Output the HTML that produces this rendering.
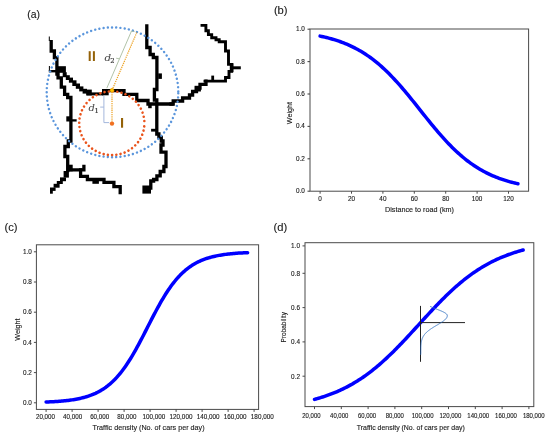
<!DOCTYPE html>
<html><head><meta charset="utf-8"><title>Figure</title>
<style>
html,body{margin:0;padding:0;background:#fff;}
body{width:550px;height:437px;overflow:hidden;}
svg{display:block;}
</style></head>
<body>
<svg width="550" height="437" viewBox="0 0 550 437">
<rect width="550" height="437" fill="#fff"/>
<rect x="310.0" y="29.0" width="218.60000000000002" height="162.2" fill="none" stroke="#4a4a4a" stroke-width="1"/>
<line x1="307.5" y1="191.20" x2="310.0" y2="191.20" stroke="#4a4a4a" stroke-width="1.1"/>
<text x="304.80" y="193.10" font-size="6.4" text-anchor="end" fill="#1a1a1a" stroke="#1a1a1a" stroke-width="0.12" font-family='"Liberation Sans", "DejaVu Sans", sans-serif' >0.0</text>
<line x1="307.5" y1="158.80" x2="310.0" y2="158.80" stroke="#4a4a4a" stroke-width="1.1"/>
<text x="304.80" y="160.70" font-size="6.4" text-anchor="end" fill="#1a1a1a" stroke="#1a1a1a" stroke-width="0.12" font-family='"Liberation Sans", "DejaVu Sans", sans-serif' >0.2</text>
<line x1="307.5" y1="126.40" x2="310.0" y2="126.40" stroke="#4a4a4a" stroke-width="1.1"/>
<text x="304.80" y="128.30" font-size="6.4" text-anchor="end" fill="#1a1a1a" stroke="#1a1a1a" stroke-width="0.12" font-family='"Liberation Sans", "DejaVu Sans", sans-serif' >0.4</text>
<line x1="307.5" y1="94.00" x2="310.0" y2="94.00" stroke="#4a4a4a" stroke-width="1.1"/>
<text x="304.80" y="95.90" font-size="6.4" text-anchor="end" fill="#1a1a1a" stroke="#1a1a1a" stroke-width="0.12" font-family='"Liberation Sans", "DejaVu Sans", sans-serif' >0.6</text>
<line x1="307.5" y1="61.60" x2="310.0" y2="61.60" stroke="#4a4a4a" stroke-width="1.1"/>
<text x="304.80" y="63.50" font-size="6.4" text-anchor="end" fill="#1a1a1a" stroke="#1a1a1a" stroke-width="0.12" font-family='"Liberation Sans", "DejaVu Sans", sans-serif' >0.8</text>
<line x1="307.5" y1="29.20" x2="310.0" y2="29.20" stroke="#4a4a4a" stroke-width="1.1"/>
<text x="304.80" y="31.10" font-size="6.4" text-anchor="end" fill="#1a1a1a" stroke="#1a1a1a" stroke-width="0.12" font-family='"Liberation Sans", "DejaVu Sans", sans-serif' >1.0</text>
<line x1="320.10" y1="191.2" x2="320.10" y2="193.7" stroke="#4a4a4a" stroke-width="1"/>
<text x="320.10" y="200.70" font-size="6.4" text-anchor="middle" fill="#1a1a1a" stroke="#1a1a1a" stroke-width="0.12" font-family='"Liberation Sans", "DejaVu Sans", sans-serif' >0</text>
<line x1="351.50" y1="191.2" x2="351.50" y2="193.7" stroke="#4a4a4a" stroke-width="1"/>
<text x="351.50" y="200.70" font-size="6.4" text-anchor="middle" fill="#1a1a1a" stroke="#1a1a1a" stroke-width="0.12" font-family='"Liberation Sans", "DejaVu Sans", sans-serif' >20</text>
<line x1="382.90" y1="191.2" x2="382.90" y2="193.7" stroke="#4a4a4a" stroke-width="1"/>
<text x="382.90" y="200.70" font-size="6.4" text-anchor="middle" fill="#1a1a1a" stroke="#1a1a1a" stroke-width="0.12" font-family='"Liberation Sans", "DejaVu Sans", sans-serif' >40</text>
<line x1="414.30" y1="191.2" x2="414.30" y2="193.7" stroke="#4a4a4a" stroke-width="1"/>
<text x="414.30" y="200.70" font-size="6.4" text-anchor="middle" fill="#1a1a1a" stroke="#1a1a1a" stroke-width="0.12" font-family='"Liberation Sans", "DejaVu Sans", sans-serif' >60</text>
<line x1="445.70" y1="191.2" x2="445.70" y2="193.7" stroke="#4a4a4a" stroke-width="1"/>
<text x="445.70" y="200.70" font-size="6.4" text-anchor="middle" fill="#1a1a1a" stroke="#1a1a1a" stroke-width="0.12" font-family='"Liberation Sans", "DejaVu Sans", sans-serif' >80</text>
<line x1="477.10" y1="191.2" x2="477.10" y2="193.7" stroke="#4a4a4a" stroke-width="1"/>
<text x="477.10" y="200.70" font-size="6.4" text-anchor="middle" fill="#1a1a1a" stroke="#1a1a1a" stroke-width="0.12" font-family='"Liberation Sans", "DejaVu Sans", sans-serif' >100</text>
<line x1="508.50" y1="191.2" x2="508.50" y2="193.7" stroke="#4a4a4a" stroke-width="1"/>
<text x="508.50" y="200.70" font-size="6.4" text-anchor="middle" fill="#1a1a1a" stroke="#1a1a1a" stroke-width="0.12" font-family='"Liberation Sans", "DejaVu Sans", sans-serif' >120</text>
<text x="419.50" y="212.00" font-size="7.3" text-anchor="middle" fill="#1a1a1a" stroke="#1a1a1a" stroke-width="0.12" font-family='"Liberation Sans", "DejaVu Sans", sans-serif' textLength="69" lengthAdjust="spacingAndGlyphs" >Distance to road (km)</text>
<text x="0" y="0" font-size="7.2" text-anchor="middle" fill="#1a1a1a" stroke="#1a1a1a" stroke-width="0.12" font-family='"Liberation Sans", "DejaVu Sans", sans-serif' transform="translate(292.2,113) rotate(-90)">Weight</text>
<path d="M320.10,36.10 L321.67,36.43 L323.24,36.78 L324.81,37.14 L326.38,37.51 L327.95,37.91 L329.52,38.32 L331.09,38.75 L332.66,39.19 L334.23,39.66 L335.80,40.15 L337.37,40.66 L338.94,41.19 L340.51,41.74 L342.08,42.32 L343.65,42.92 L345.22,43.54 L346.79,44.19 L348.36,44.87 L349.93,45.57 L351.50,46.31 L353.07,47.07 L354.64,47.86 L356.21,48.68 L357.78,49.53 L359.35,50.41 L360.92,51.33 L362.49,52.28 L364.06,53.26 L365.63,54.28 L367.20,55.33 L368.77,56.41 L370.34,57.54 L371.91,58.69 L373.48,59.89 L375.05,61.12 L376.62,62.39 L378.19,63.70 L379.76,65.04 L381.33,66.42 L382.90,67.84 L384.47,69.29 L386.04,70.78 L387.61,72.30 L389.18,73.86 L390.75,75.46 L392.32,77.09 L393.89,78.75 L395.46,80.44 L397.03,82.17 L398.60,83.92 L400.17,85.70 L401.74,87.51 L403.31,89.34 L404.88,91.20 L406.45,93.08 L408.02,94.97 L409.59,96.89 L411.16,98.82 L412.73,100.76 L414.30,102.71 L415.87,104.68 L417.44,106.65 L419.01,108.62 L420.58,110.60 L422.15,112.57 L423.72,114.54 L425.29,116.51 L426.86,118.47 L428.43,120.42 L430.00,122.36 L431.57,124.28 L433.14,126.19 L434.71,128.08 L436.28,129.95 L437.85,131.79 L439.42,133.62 L440.99,135.41 L442.56,137.18 L444.13,138.93 L445.70,140.64 L447.27,142.32 L448.84,143.97 L450.41,145.58 L451.98,147.16 L453.55,148.71 L455.12,150.22 L456.69,151.70 L458.26,153.14 L459.83,154.54 L461.40,155.90 L462.97,157.23 L464.54,158.52 L466.11,159.78 L467.68,160.99 L469.25,162.17 L470.82,163.32 L472.39,164.43 L473.96,165.50 L475.53,166.54 L477.10,167.54 L478.67,168.51 L480.24,169.44 L481.81,170.35 L483.38,171.22 L484.95,172.05 L486.52,172.86 L488.09,173.64 L489.66,174.39 L491.23,175.11 L492.80,175.80 L494.37,176.47 L495.94,177.11 L497.51,177.73 L499.08,178.32 L500.65,178.88 L502.22,179.43 L503.79,179.95 L505.36,180.45 L506.93,180.93 L508.50,181.39 L510.07,181.83 L511.64,182.25 L513.21,182.65 L514.78,183.04 L516.35,183.41 L517.92,183.76" fill="none" stroke="#0000ff" stroke-width="3.5" stroke-linecap="round" stroke-linejoin="round" />
<rect x="36.4" y="244.8" width="222.20000000000002" height="164.59999999999997" fill="none" stroke="#4a4a4a" stroke-width="1"/>
<line x1="33.9" y1="402.80" x2="36.4" y2="402.80" stroke="#4a4a4a" stroke-width="1"/>
<text x="31.80" y="404.90" font-size="6.4" text-anchor="end" fill="#1a1a1a" stroke="#1a1a1a" stroke-width="0.12" font-family='"Liberation Sans", "DejaVu Sans", sans-serif' >0.0</text>
<line x1="33.9" y1="372.60" x2="36.4" y2="372.60" stroke="#4a4a4a" stroke-width="1"/>
<text x="31.80" y="374.70" font-size="6.4" text-anchor="end" fill="#1a1a1a" stroke="#1a1a1a" stroke-width="0.12" font-family='"Liberation Sans", "DejaVu Sans", sans-serif' >0.2</text>
<line x1="33.9" y1="342.40" x2="36.4" y2="342.40" stroke="#4a4a4a" stroke-width="1"/>
<text x="31.80" y="344.50" font-size="6.4" text-anchor="end" fill="#1a1a1a" stroke="#1a1a1a" stroke-width="0.12" font-family='"Liberation Sans", "DejaVu Sans", sans-serif' >0.4</text>
<line x1="33.9" y1="312.20" x2="36.4" y2="312.20" stroke="#4a4a4a" stroke-width="1"/>
<text x="31.80" y="314.30" font-size="6.4" text-anchor="end" fill="#1a1a1a" stroke="#1a1a1a" stroke-width="0.12" font-family='"Liberation Sans", "DejaVu Sans", sans-serif' >0.6</text>
<line x1="33.9" y1="282.00" x2="36.4" y2="282.00" stroke="#4a4a4a" stroke-width="1"/>
<text x="31.80" y="284.10" font-size="6.4" text-anchor="end" fill="#1a1a1a" stroke="#1a1a1a" stroke-width="0.12" font-family='"Liberation Sans", "DejaVu Sans", sans-serif' >0.8</text>
<line x1="33.9" y1="251.80" x2="36.4" y2="251.80" stroke="#4a4a4a" stroke-width="1"/>
<text x="31.80" y="253.90" font-size="6.4" text-anchor="end" fill="#1a1a1a" stroke="#1a1a1a" stroke-width="0.12" font-family='"Liberation Sans", "DejaVu Sans", sans-serif' >1.0</text>
<line x1="46.10" y1="409.4" x2="46.10" y2="411.9" stroke="#4a4a4a" stroke-width="1"/>
<text x="45.50" y="418.50" font-size="6.4" text-anchor="middle" fill="#1a1a1a" stroke="#1a1a1a" stroke-width="0.12" font-family='"Liberation Sans", "DejaVu Sans", sans-serif' textLength="19.1" lengthAdjust="spacingAndGlyphs" >20,000</text>
<line x1="72.10" y1="409.4" x2="72.10" y2="411.9" stroke="#4a4a4a" stroke-width="1"/>
<text x="72.60" y="418.50" font-size="6.4" text-anchor="middle" fill="#1a1a1a" stroke="#1a1a1a" stroke-width="0.12" font-family='"Liberation Sans", "DejaVu Sans", sans-serif' textLength="19.1" lengthAdjust="spacingAndGlyphs" >40,000</text>
<line x1="98.10" y1="409.4" x2="98.10" y2="411.9" stroke="#4a4a4a" stroke-width="1"/>
<text x="99.70" y="418.50" font-size="6.4" text-anchor="middle" fill="#1a1a1a" stroke="#1a1a1a" stroke-width="0.12" font-family='"Liberation Sans", "DejaVu Sans", sans-serif' textLength="19.1" lengthAdjust="spacingAndGlyphs" >60,000</text>
<line x1="124.10" y1="409.4" x2="124.10" y2="411.9" stroke="#4a4a4a" stroke-width="1"/>
<text x="126.80" y="418.50" font-size="6.4" text-anchor="middle" fill="#1a1a1a" stroke="#1a1a1a" stroke-width="0.12" font-family='"Liberation Sans", "DejaVu Sans", sans-serif' textLength="19.1" lengthAdjust="spacingAndGlyphs" >80,000</text>
<line x1="150.10" y1="409.4" x2="150.10" y2="411.9" stroke="#4a4a4a" stroke-width="1"/>
<text x="153.90" y="418.50" font-size="6.4" text-anchor="middle" fill="#1a1a1a" stroke="#1a1a1a" stroke-width="0.12" font-family='"Liberation Sans", "DejaVu Sans", sans-serif' textLength="22.9" lengthAdjust="spacingAndGlyphs" >100,000</text>
<line x1="176.10" y1="409.4" x2="176.10" y2="411.9" stroke="#4a4a4a" stroke-width="1"/>
<text x="181.00" y="418.50" font-size="6.4" text-anchor="middle" fill="#1a1a1a" stroke="#1a1a1a" stroke-width="0.12" font-family='"Liberation Sans", "DejaVu Sans", sans-serif' textLength="22.9" lengthAdjust="spacingAndGlyphs" >120,000</text>
<line x1="202.10" y1="409.4" x2="202.10" y2="411.9" stroke="#4a4a4a" stroke-width="1"/>
<text x="208.10" y="418.50" font-size="6.4" text-anchor="middle" fill="#1a1a1a" stroke="#1a1a1a" stroke-width="0.12" font-family='"Liberation Sans", "DejaVu Sans", sans-serif' textLength="22.9" lengthAdjust="spacingAndGlyphs" >140,000</text>
<line x1="228.10" y1="409.4" x2="228.10" y2="411.9" stroke="#4a4a4a" stroke-width="1"/>
<text x="235.20" y="418.50" font-size="6.4" text-anchor="middle" fill="#1a1a1a" stroke="#1a1a1a" stroke-width="0.12" font-family='"Liberation Sans", "DejaVu Sans", sans-serif' textLength="22.9" lengthAdjust="spacingAndGlyphs" >160,000</text>
<line x1="254.10" y1="409.4" x2="254.10" y2="411.9" stroke="#4a4a4a" stroke-width="1"/>
<text x="262.30" y="418.50" font-size="6.4" text-anchor="middle" fill="#1a1a1a" stroke="#1a1a1a" stroke-width="0.12" font-family='"Liberation Sans", "DejaVu Sans", sans-serif' textLength="22.9" lengthAdjust="spacingAndGlyphs" >180,000</text>
<text x="148.60" y="429.70" font-size="7.5" text-anchor="middle" fill="#1a1a1a" stroke="#1a1a1a" stroke-width="0.12" font-family='"Liberation Sans", "DejaVu Sans", sans-serif' textLength="112" lengthAdjust="spacingAndGlyphs" >Traffic density (No. of cars per day)</text>
<text x="0" y="0" font-size="7.2" text-anchor="middle" fill="#1a1a1a" stroke="#1a1a1a" stroke-width="0.12" font-family='"Liberation Sans", "DejaVu Sans", sans-serif' transform="translate(19.6,329.5) rotate(-90)">Weight</text>
<path d="M46.10,402.03 L47.40,401.97 L48.70,401.92 L50.00,401.85 L51.30,401.79 L52.60,401.72 L53.90,401.64 L55.20,401.56 L56.50,401.48 L57.80,401.39 L59.10,401.29 L60.40,401.18 L61.70,401.07 L63.00,400.95 L64.30,400.83 L65.60,400.69 L66.90,400.55 L68.20,400.39 L69.50,400.22 L70.80,400.05 L72.10,399.86 L73.40,399.66 L74.70,399.44 L76.00,399.21 L77.30,398.97 L78.60,398.71 L79.90,398.43 L81.20,398.14 L82.50,397.82 L83.80,397.48 L85.10,397.13 L86.40,396.75 L87.70,396.34 L89.00,395.91 L90.30,395.45 L91.60,394.97 L92.90,394.45 L94.20,393.90 L95.50,393.32 L96.80,392.70 L98.10,392.04 L99.40,391.35 L100.70,390.61 L102.00,389.83 L103.30,389.01 L104.60,388.14 L105.90,387.22 L107.20,386.25 L108.50,385.22 L109.80,384.15 L111.10,383.01 L112.40,381.82 L113.70,380.57 L115.00,379.26 L116.30,377.89 L117.60,376.45 L118.90,374.95 L120.20,373.38 L121.50,371.75 L122.80,370.05 L124.10,368.28 L125.40,366.45 L126.70,364.55 L128.00,362.59 L129.30,360.57 L130.60,358.48 L131.90,356.33 L133.20,354.13 L134.50,351.88 L135.80,349.57 L137.10,347.22 L138.40,344.83 L139.70,342.40 L141.00,339.93 L142.30,337.44 L143.60,334.93 L144.90,332.39 L146.20,329.85 L147.50,327.30 L148.80,324.75 L150.10,322.21 L151.40,319.67 L152.70,317.16 L154.00,314.67 L155.30,312.20 L156.60,309.77 L157.90,307.38 L159.20,305.03 L160.50,302.72 L161.80,300.47 L163.10,298.27 L164.40,296.12 L165.70,294.03 L167.00,292.01 L168.30,290.05 L169.60,288.15 L170.90,286.32 L172.20,284.55 L173.50,282.85 L174.80,281.22 L176.10,279.65 L177.40,278.15 L178.70,276.71 L180.00,275.34 L181.30,274.03 L182.60,272.78 L183.90,271.59 L185.20,270.45 L186.50,269.38 L187.80,268.35 L189.10,267.38 L190.40,266.46 L191.70,265.59 L193.00,264.77 L194.30,263.99 L195.60,263.25 L196.90,262.56 L198.20,261.90 L199.50,261.28 L200.80,260.70 L202.10,260.15 L203.40,259.63 L204.70,259.15 L206.00,258.69 L207.30,258.26 L208.60,257.85 L209.90,257.47 L211.20,257.12 L212.50,256.78 L213.80,256.46 L215.10,256.17 L216.40,255.89 L217.70,255.63 L219.00,255.39 L220.30,255.16 L221.60,254.94 L222.90,254.74 L224.20,254.55 L225.50,254.38 L226.80,254.21 L228.10,254.05 L229.40,253.91 L230.70,253.77 L232.00,253.65 L233.30,253.53 L234.60,253.42 L235.90,253.31 L237.20,253.21 L238.50,253.12 L239.80,253.04 L241.10,252.96 L242.40,252.88 L243.70,252.81 L245.00,252.75 L246.30,252.68 L247.60,252.63" fill="none" stroke="#0000ff" stroke-width="3.5" stroke-linecap="round" stroke-linejoin="round" />
<rect x="305.0" y="242.7" width="228.79999999999995" height="163.90000000000003" fill="none" stroke="#4a4a4a" stroke-width="1"/>
<line x1="302.5" y1="245.90" x2="305.0" y2="245.90" stroke="#4a4a4a" stroke-width="1"/>
<text x="300.00" y="248.30" font-size="6.4" text-anchor="end" fill="#1a1a1a" stroke="#1a1a1a" stroke-width="0.12" font-family='"Liberation Sans", "DejaVu Sans", sans-serif' >1.0</text>
<line x1="302.5" y1="273.30" x2="305.0" y2="273.30" stroke="#4a4a4a" stroke-width="1"/>
<text x="300.00" y="275.70" font-size="6.4" text-anchor="end" fill="#1a1a1a" stroke="#1a1a1a" stroke-width="0.12" font-family='"Liberation Sans", "DejaVu Sans", sans-serif' >0.8</text>
<line x1="302.5" y1="307.60" x2="305.0" y2="307.60" stroke="#4a4a4a" stroke-width="1"/>
<text x="300.00" y="310.00" font-size="6.4" text-anchor="end" fill="#1a1a1a" stroke="#1a1a1a" stroke-width="0.12" font-family='"Liberation Sans", "DejaVu Sans", sans-serif' >0.6</text>
<line x1="302.5" y1="341.90" x2="305.0" y2="341.90" stroke="#4a4a4a" stroke-width="1"/>
<text x="300.00" y="344.30" font-size="6.4" text-anchor="end" fill="#1a1a1a" stroke="#1a1a1a" stroke-width="0.12" font-family='"Liberation Sans", "DejaVu Sans", sans-serif' >0.4</text>
<line x1="302.5" y1="376.20" x2="305.0" y2="376.20" stroke="#4a4a4a" stroke-width="1"/>
<text x="300.00" y="378.60" font-size="6.4" text-anchor="end" fill="#1a1a1a" stroke="#1a1a1a" stroke-width="0.12" font-family='"Liberation Sans", "DejaVu Sans", sans-serif' >0.2</text>
<line x1="314.50" y1="406.6" x2="314.50" y2="409.1" stroke="#4a4a4a" stroke-width="1"/>
<text x="311.40" y="417.70" font-size="6.4" text-anchor="middle" fill="#1a1a1a" stroke="#1a1a1a" stroke-width="0.12" font-family='"Liberation Sans", "DejaVu Sans", sans-serif' textLength="18.2" lengthAdjust="spacingAndGlyphs" >20,000</text>
<line x1="341.30" y1="406.6" x2="341.30" y2="409.1" stroke="#4a4a4a" stroke-width="1"/>
<text x="339.20" y="417.70" font-size="6.4" text-anchor="middle" fill="#1a1a1a" stroke="#1a1a1a" stroke-width="0.12" font-family='"Liberation Sans", "DejaVu Sans", sans-serif' textLength="18.2" lengthAdjust="spacingAndGlyphs" >40,000</text>
<line x1="368.10" y1="406.6" x2="368.10" y2="409.1" stroke="#4a4a4a" stroke-width="1"/>
<text x="367.00" y="417.70" font-size="6.4" text-anchor="middle" fill="#1a1a1a" stroke="#1a1a1a" stroke-width="0.12" font-family='"Liberation Sans", "DejaVu Sans", sans-serif' textLength="18.2" lengthAdjust="spacingAndGlyphs" >60,000</text>
<line x1="394.90" y1="406.6" x2="394.90" y2="409.1" stroke="#4a4a4a" stroke-width="1"/>
<text x="394.80" y="417.70" font-size="6.4" text-anchor="middle" fill="#1a1a1a" stroke="#1a1a1a" stroke-width="0.12" font-family='"Liberation Sans", "DejaVu Sans", sans-serif' textLength="18.2" lengthAdjust="spacingAndGlyphs" >80,000</text>
<line x1="421.70" y1="406.6" x2="421.70" y2="409.1" stroke="#4a4a4a" stroke-width="1"/>
<text x="422.60" y="417.70" font-size="6.4" text-anchor="middle" fill="#1a1a1a" stroke="#1a1a1a" stroke-width="0.12" font-family='"Liberation Sans", "DejaVu Sans", sans-serif' textLength="21.8" lengthAdjust="spacingAndGlyphs" >100,000</text>
<line x1="448.50" y1="406.6" x2="448.50" y2="409.1" stroke="#4a4a4a" stroke-width="1"/>
<text x="450.40" y="417.70" font-size="6.4" text-anchor="middle" fill="#1a1a1a" stroke="#1a1a1a" stroke-width="0.12" font-family='"Liberation Sans", "DejaVu Sans", sans-serif' textLength="21.8" lengthAdjust="spacingAndGlyphs" >120,000</text>
<line x1="475.30" y1="406.6" x2="475.30" y2="409.1" stroke="#4a4a4a" stroke-width="1"/>
<text x="478.20" y="417.70" font-size="6.4" text-anchor="middle" fill="#1a1a1a" stroke="#1a1a1a" stroke-width="0.12" font-family='"Liberation Sans", "DejaVu Sans", sans-serif' textLength="21.8" lengthAdjust="spacingAndGlyphs" >140,000</text>
<line x1="502.10" y1="406.6" x2="502.10" y2="409.1" stroke="#4a4a4a" stroke-width="1"/>
<text x="506.00" y="417.70" font-size="6.4" text-anchor="middle" fill="#1a1a1a" stroke="#1a1a1a" stroke-width="0.12" font-family='"Liberation Sans", "DejaVu Sans", sans-serif' textLength="21.8" lengthAdjust="spacingAndGlyphs" >160,000</text>
<line x1="528.90" y1="406.6" x2="528.90" y2="409.1" stroke="#4a4a4a" stroke-width="1"/>
<text x="533.80" y="417.70" font-size="6.4" text-anchor="middle" fill="#1a1a1a" stroke="#1a1a1a" stroke-width="0.12" font-family='"Liberation Sans", "DejaVu Sans", sans-serif' textLength="21.8" lengthAdjust="spacingAndGlyphs" >180,000</text>
<text x="410.80" y="429.50" font-size="7.3" text-anchor="middle" fill="#1a1a1a" stroke="#1a1a1a" stroke-width="0.12" font-family='"Liberation Sans", "DejaVu Sans", sans-serif' textLength="108" lengthAdjust="spacingAndGlyphs" >Traffic density (No. of cars per day)</text>
<text x="0" y="0" font-size="6.5" text-anchor="middle" fill="#1a1a1a" stroke="#1a1a1a" stroke-width="0.12" font-family='"Liberation Sans", "DejaVu Sans", sans-serif' transform="translate(286.4,327.3) rotate(-90)">Probability</text>
<path d="M314.50,399.36 L315.84,399.00 L317.18,398.62 L318.52,398.24 L319.86,397.84 L321.20,397.44 L322.54,397.02 L323.88,396.58 L325.22,396.14 L326.56,395.68 L327.90,395.21 L329.24,394.72 L330.58,394.23 L331.92,393.71 L333.26,393.19 L334.60,392.64 L335.94,392.09 L337.28,391.52 L338.62,390.93 L339.96,390.33 L341.30,389.71 L342.64,389.07 L343.98,388.42 L345.32,387.75 L346.66,387.07 L348.00,386.36 L349.34,385.64 L350.68,384.91 L352.02,384.15 L353.36,383.38 L354.70,382.58 L356.04,381.77 L357.38,380.94 L358.72,380.09 L360.06,379.22 L361.40,378.34 L362.74,377.43 L364.08,376.51 L365.42,375.56 L366.76,374.60 L368.10,373.61 L369.44,372.61 L370.78,371.59 L372.12,370.55 L373.46,369.48 L374.80,368.40 L376.14,367.31 L377.48,366.19 L378.82,365.05 L380.16,363.89 L381.50,362.72 L382.84,361.53 L384.18,360.32 L385.52,359.09 L386.86,357.85 L388.20,356.59 L389.54,355.31 L390.88,354.02 L392.22,352.71 L393.56,351.39 L394.90,350.06 L396.24,348.71 L397.58,347.34 L398.92,345.97 L400.26,344.58 L401.60,343.18 L402.94,341.78 L404.28,340.36 L405.62,338.93 L406.96,337.50 L408.30,336.06 L409.64,334.61 L410.98,333.15 L412.32,331.69 L413.66,330.23 L415.00,328.76 L416.34,327.29 L417.68,325.82 L419.02,324.35 L420.36,322.88 L421.70,321.41 L423.04,319.94 L424.38,318.48 L425.72,317.02 L427.06,315.56 L428.40,314.11 L429.74,312.67 L431.08,311.23 L432.42,309.80 L433.76,308.37 L435.10,306.96 L436.44,305.56 L437.78,304.17 L439.12,302.79 L440.46,301.42 L441.80,300.06 L443.14,298.72 L444.48,297.39 L445.82,296.08 L447.16,294.78 L448.50,293.49 L449.84,292.23 L451.18,290.98 L452.52,289.74 L453.86,288.52 L455.20,287.32 L456.54,286.14 L457.88,284.98 L459.22,283.83 L460.56,282.71 L461.90,281.60 L463.24,280.51 L464.58,279.44 L465.92,278.39 L467.26,277.36 L468.60,276.35 L469.94,275.35 L471.28,274.38 L472.62,273.43 L473.96,272.49 L475.30,271.58 L476.64,270.68 L477.98,269.80 L479.32,268.95 L480.66,268.11 L482.00,267.29 L483.34,266.49 L484.68,265.70 L486.02,264.94 L487.36,264.19 L488.70,263.46 L490.04,262.75 L491.38,262.06 L492.72,261.38 L494.06,260.72 L495.40,260.08 L496.74,259.46 L498.08,258.85 L499.42,258.25 L500.76,257.67 L502.10,257.11 L503.44,256.56 L504.78,256.03 L506.12,255.51 L507.46,255.00 L508.80,254.51 L510.14,254.04 L511.48,253.57 L512.82,253.12 L514.16,252.68 L515.50,252.26 L516.84,251.84 L518.18,251.44 L519.52,251.05 L520.86,250.67 L522.20,250.30 L523.14,250.05" fill="none" stroke="#0000ff" stroke-width="3.5" stroke-linecap="round" stroke-linejoin="round" />
<line x1="420.5" y1="305.9" x2="420.5" y2="361.8" stroke="#222" stroke-width="1"/>
<line x1="420.5" y1="322.6" x2="465" y2="322.6" stroke="#222" stroke-width="1"/>
<path d="M430.38,306.50 L430.64,306.62 L430.90,306.74 L431.17,306.86 L431.44,306.98 L431.71,307.10 L431.99,307.22 L432.27,307.34 L432.55,307.46 L432.83,307.58 L433.12,307.70 L433.41,307.82 L433.70,307.94 L433.99,308.06 L434.28,308.18 L434.58,308.30 L434.88,308.42 L435.18,308.54 L435.48,308.66 L435.78,308.78 L436.08,308.90 L436.38,309.02 L436.68,309.14 L436.98,309.26 L437.29,309.38 L437.59,309.50 L437.89,309.62 L438.19,309.74 L438.49,309.86 L438.79,309.98 L439.09,310.10 L439.38,310.22 L439.68,310.34 L439.97,310.46 L440.26,310.58 L440.54,310.70 L440.83,310.82 L441.11,310.94 L441.38,311.06 L441.66,311.18 L441.93,311.30 L442.19,311.42 L442.45,311.54 L442.71,311.66 L442.96,311.78 L443.21,311.90 L443.45,312.02 L443.68,312.14 L443.91,312.26 L444.14,312.38 L444.36,312.50 L444.57,312.62 L444.77,312.74 L444.97,312.86 L445.16,312.98 L445.35,313.10 L445.52,313.22 L445.69,313.34 L445.85,313.46 L446.01,313.58 L446.15,313.70 L446.29,313.82 L446.42,313.94 L446.54,314.06 L446.65,314.18 L446.76,314.30 L446.85,314.42 L446.94,314.54 L447.01,314.66 L447.08,314.78 L447.14,314.90 L447.19,315.02 L447.23,315.14 L447.26,315.26 L447.28,315.38 L447.30,315.50 L447.30,315.62 L447.30,315.74 L447.29,315.86 L447.28,315.98 L447.26,316.10 L447.24,316.22 L447.22,316.34 L447.19,316.46 L447.16,316.58 L447.13,316.70 L447.09,316.82 L447.04,316.94 L446.99,317.06 L446.94,317.18 L446.89,317.30 L446.83,317.42 L446.76,317.54 L446.69,317.66 L446.62,317.78 L446.55,317.90 L446.47,318.02 L446.39,318.14 L446.30,318.26 L446.21,318.38 L446.11,318.50 L446.02,318.62 L445.91,318.74 L445.81,318.86 L445.70,318.98 L445.59,319.10 L445.47,319.22 L445.36,319.34 L445.23,319.46 L445.11,319.58 L444.98,319.70 L444.85,319.82 L444.72,319.94 L444.58,320.06 L444.44,320.18 L444.30,320.30 L444.15,320.42 L444.00,320.54 L443.85,320.66 L443.70,320.78 L443.54,320.90 L443.38,321.02 L443.22,321.14 L443.06,321.26 L442.89,321.38 L442.72,321.50 L442.55,321.62 L442.38,321.74 L442.21,321.86 L442.03,321.98 L441.85,322.10 L441.67,322.22 L441.49,322.34 L441.31,322.46 L441.12,322.58 L440.94,322.70 L440.75,322.82 L440.56,322.94 L440.37,323.06 L440.18,323.18 L439.98,323.30 L439.79,323.42 L439.59,323.54 L439.40,323.66 L439.20,323.78 L439.00,323.90 L438.81,324.02 L438.61,324.14 L438.41,324.26 L438.21,324.38 L438.01,324.50 L437.81,324.62 L437.61,324.74 L437.40,324.86 L437.20,324.98 L437.00,325.10 L436.80,325.22 L436.60,325.34 L436.40,325.46 L436.20,325.58 L435.99,325.70 L435.79,325.82 L435.59,325.94 L435.39,326.06 L435.19,326.18 L434.99,326.30 L434.79,326.42 L434.60,326.54 L434.40,326.66 L434.20,326.78 L434.01,326.90 L433.81,327.02 L433.62,327.14 L433.42,327.26 L433.23,327.38 L433.04,327.50 L432.85,327.62 L432.66,327.74 L432.47,327.86 L432.28,327.98 L432.10,328.10 L431.91,328.22 L431.73,328.34 L431.54,328.46 L431.36,328.58 L431.18,328.70 L431.01,328.82 L430.83,328.94 L430.65,329.06 L430.48,329.18 L430.31,329.30 L430.14,329.42 L429.97,329.54 L429.80,329.66 L429.64,329.78 L429.47,329.90 L429.31,330.02 L429.15,330.14 L428.99,330.26 L428.83,330.38 L428.68,330.50 L428.52,330.62 L428.37,330.74 L428.22,330.86 L428.07,330.98 L427.92,331.10 L427.78,331.22 L427.64,331.34 L427.50,331.46 L427.36,331.58 L427.22,331.70 L427.08,331.82 L426.95,331.94 L426.82,332.06 L426.69,332.18 L426.56,332.30 L426.43,332.42 L426.31,332.54 L426.18,332.66 L426.06,332.78 L425.94,332.90 L425.83,333.02 L425.71,333.14 L425.60,333.26 L425.49,333.38 L425.38,333.50 L425.27,333.62 L425.16,333.74 L425.06,333.86 L424.96,333.98 L424.85,334.10 L424.75,334.22 L424.66,334.34 L424.56,334.46 L424.47,334.58 L424.38,334.70 L424.28,334.82 L424.20,334.94 L424.11,335.06 L424.02,335.18 L423.94,335.30 L423.86,335.42 L423.78,335.54 L423.70,335.66 L423.62,335.78 L423.54,335.90 L423.47,336.02 L423.40,336.14 L423.33,336.26 L423.26,336.38 L423.19,336.50 L423.12,336.62 L423.05,336.74 L422.99,336.86 L422.93,336.98 L422.87,337.10 L422.81,337.22 L422.75,337.34 L422.69,337.46 L422.63,337.58 L422.58,337.70 L422.53,337.82 L422.47,337.94 L422.42,338.06 L422.37,338.18 L422.32,338.30 L422.28,338.42 L422.23,338.54 L422.19,338.66 L422.14,338.78 L422.10,338.90 L422.06,339.02 L422.02,339.14 L421.98,339.26 L421.94,339.38 L421.90,339.50 L421.86,339.62 L421.83,339.74 L421.79,339.86 L421.76,339.98 L421.72,340.10 L421.69,340.22 L421.66,340.34 L421.63,340.46 L421.60,340.58 L421.57,340.70 L421.54,340.82 L421.52,340.94 L421.49,341.06 L421.46,341.18 L421.44,341.30 L421.41,341.42 L421.39,341.54 L421.37,341.66 L421.35,341.78 L421.32,341.90 L421.30,342.02 L421.28,342.14 L421.26,342.26 L421.24,342.38 L421.22,342.50 L421.21,342.62 L421.19,342.74 L421.17,342.86 L421.16,342.98 L421.14,343.10 L421.12,343.22 L421.11,343.34 L421.09,343.46 L421.08,343.58 L421.07,343.70 L421.05,343.82 L421.04,343.94 L421.03,344.06 L421.02,344.18 L421.00,344.30 L420.99,344.42 L420.98,344.54 L420.97,344.66 L420.96,344.78 L420.95,344.90 L420.94,345.02 L420.93,345.14 L420.92,345.26 L420.92,345.38 L420.91,345.50 L420.90,345.62 L420.89,345.74 L420.89,345.86 L420.88,345.98 L420.87,346.10 L420.86,346.22 L420.86,346.34 L420.85,346.46 L420.85,346.58 L420.84,346.70 L420.83,346.82 L420.83,346.94 L420.82,347.06 L420.82,347.18 L420.81,347.30 L420.81,347.42 L420.80,347.54 L420.80,347.66 L420.80,347.78 L420.79,347.90 L420.79,348.02 L420.79,348.14 L420.78,348.26 L420.78,348.38 L420.77,348.50 L420.77,348.62 L420.77,348.74 L420.77,348.86 L420.76,348.98 L420.76,349.10 L420.76,349.22 L420.76,349.34 L420.75,349.46 L420.75,349.58 L420.75,349.70 L420.75,349.82 L420.74,349.94 L420.74,350.06 L420.74,350.18 L420.74,350.30 L420.74,350.42 L420.74,350.54 L420.73,350.66 L420.73,350.78 L420.73,350.90 L420.73,351.02 L420.73,351.14 L420.73,351.26 L420.73,351.38 L420.72,351.50 L420.72,351.62 L420.72,351.74 L420.72,351.86 L420.72,351.98 L420.72,352.10 L420.72,352.22 L420.72,352.34 L420.72,352.46 L420.72,352.58 L420.72,352.70 L420.71,352.82 L420.71,352.94 L420.71,353.06 L420.71,353.18 L420.71,353.30 L420.71,353.42 L420.71,353.54 L420.71,353.66 L420.71,353.78 L420.71,353.90 L420.71,354.02 L420.71,354.14 L420.71,354.26 L420.71,354.38" fill="none" stroke="#2f6fbf" stroke-width="0.9" stroke-linecap="round" stroke-linejoin="round" />
<text x="27.20" y="17.80" font-size="10.4" text-anchor="start" fill="#1a1a1a" stroke="#1a1a1a" stroke-width="0.12" font-family='"Liberation Sans", "DejaVu Sans", sans-serif' >(a)</text>
<text x="273.90" y="13.60" font-size="11.2" text-anchor="start" fill="#1a1a1a" stroke="#1a1a1a" stroke-width="0.12" font-family='"Liberation Sans", "DejaVu Sans", sans-serif' >(b)</text>
<text x="4.50" y="230.90" font-size="11.2" text-anchor="start" fill="#1a1a1a" stroke="#1a1a1a" stroke-width="0.12" font-family='"Liberation Sans", "DejaVu Sans", sans-serif' >(c)</text>
<text x="273.60" y="230.70" font-size="11.2" text-anchor="start" fill="#1a1a1a" stroke="#1a1a1a" stroke-width="0.12" font-family='"Liberation Sans", "DejaVu Sans", sans-serif' >(d)</text>
<path d="M51.2,41.6 V51 H54.4 V57.6 H56.9 V74" fill="none" stroke="#000" stroke-width="3.3" stroke-linejoin="miter" stroke-linecap="square"/>
<line x1="49.3" y1="36.5" x2="49.3" y2="41" stroke="#000" stroke-width="1"/>
<rect x="58.0" y="66.2" width="7.90" height="6.60" fill="#000"/>
<path d="M50,71.2 H57" fill="none" stroke="#000" stroke-width="2.4" stroke-linejoin="miter" stroke-linecap="square"/>
<line x1="49.4" y1="66" x2="49.4" y2="71" stroke="#000" stroke-width="1"/>
<path d="M58.05,73 V77.8 H61.3 V87.2 H64.6 V94.3 H67.7 V97.5 H70.9 V141 H68.3 V146.5 H64.9 V156.5 H67.7 V170.5" fill="none" stroke="#000" stroke-width="3.3" stroke-linejoin="miter" stroke-linecap="square"/>
<rect x="66.3" y="116.3" width="5.20" height="5.20" fill="#000"/>
<path d="M71.5,120.4 H75.5" fill="none" stroke="#000" stroke-width="2.3" stroke-linejoin="miter" stroke-linecap="square"/>
<rect x="66.7" y="164.7" width="6.00" height="6.60" fill="#000"/>
<rect x="62.7" y="72.2" width="4.00" height="5.00" fill="#000"/>
<rect x="65.8" y="75.2" width="4.00" height="4.80" fill="#000"/>
<rect x="68.9" y="77.6" width="4.10" height="5.10" fill="#000"/>
<rect x="72.3" y="80.3" width="4.20" height="5.70" fill="#000"/>
<rect x="75.8" y="83.5" width="4.20" height="5.30" fill="#000"/>
<rect x="79.2" y="86.4" width="4.20" height="5.00" fill="#000"/>
<rect x="82.6" y="88.8" width="4.40" height="4.80" fill="#000"/>
<rect x="86.3" y="89.6" width="5.50" height="5.80" fill="#000"/>
<rect x="86.5" y="92.4" width="17.10" height="3.00" fill="#000"/>
<rect x="102.0" y="89.0" width="6.70" height="6.30" fill="#000"/>
<path d="M105,90.6 H124 V94.3 H136.8 V100.5 H148 V104 H172" fill="none" stroke="#000" stroke-width="3.3" stroke-linejoin="miter" stroke-linecap="square"/>
<rect x="148.2" y="103.5" width="3.50" height="4.70" fill="#000"/>
<path d="M171,104 H173.2 V101 H182.6 V98 H189.5 V95 H192.6 V91.5 H196.5 V88 H200 V84.3 H206 V81.1" fill="none" stroke="#000" stroke-width="3.3" stroke-linejoin="miter" stroke-linecap="square"/>
<rect x="194.6" y="85.8" width="6.30" height="5.70" fill="#000"/>
<path d="M205,81.1 H225.5 V77.5 H229 V71.4 H231.6 V64.4 H228.5 V51 H225.5 V41.7 H219.2 V39.8 H216 V37.8 H211.7 V34.6 H208.4 V30.8 H205.9 V25.4 H202" fill="none" stroke="#000" stroke-width="2.9" stroke-linejoin="miter" stroke-linecap="square"/>
<rect x="229.8" y="63.2" width="3.70" height="9.00" fill="#000"/>
<path d="M212.7,77 V80" fill="none" stroke="#000" stroke-width="2.8" stroke-linejoin="miter" stroke-linecap="square"/>
<path d="M232,67.8 H239.3" fill="none" stroke="#000" stroke-width="3.0" stroke-linejoin="miter" stroke-linecap="square"/>
<path d="M146.8,25.9 V47.5 H150.1 V54.5 H153.3 V57.5 H156.9 V89.5 H154.4 V100 H156.8 V134 H158.9 V137.5 H161.3 V141 H163 V145 H161 V152.2 H166 V166.5 H163.9 V171.5 H160.2 V175.8 H156.9 V179.5 H153.6 V181 H150.8 V188" fill="none" stroke="#000" stroke-width="3.3" stroke-linejoin="miter" stroke-linecap="square"/>
<rect x="158.2" y="73.4" width="3.70" height="5.50" fill="#000"/>
<path d="M152.5,130.2 H156" fill="none" stroke="#000" stroke-width="2.8" stroke-linejoin="miter" stroke-linecap="square"/>
<rect x="142.4" y="185.5" width="8.60" height="8.10" fill="#000"/>
<rect x="63.6" y="171.0" width="5.30" height="6.60" fill="#000"/>
<rect x="60.0" y="177.4" width="6.00" height="3.80" fill="#000"/>
<rect x="56.8" y="181.0" width="6.00" height="3.00" fill="#000"/>
<rect x="53.6" y="183.8" width="6.00" height="3.90" fill="#000"/>
<rect x="50.0" y="187.5" width="5.60" height="3.40" fill="#000"/>
<rect x="50.0" y="188.9" width="2.80" height="4.80" fill="#000"/>
<path d="M70,169.9 H83.9 V166.5" fill="none" stroke="#000" stroke-width="3.3" stroke-linejoin="miter" stroke-linecap="square"/>
<path d="M80.6,170 V176.4 H87.4 V179.5 H104 V182.3 H113.9 V186.6 H120.2 V192.5" fill="none" stroke="#000" stroke-width="3.3" stroke-linejoin="miter" stroke-linecap="square"/>
<rect x="92.4" y="179.5" width="6.50" height="4.30" fill="#000"/>
<ellipse cx="112.5" cy="92.3" rx="65.8" ry="64.9" fill="none" stroke="#5b96dc" stroke-width="2.45" stroke-dasharray="0.01 4.2404" stroke-dashoffset="-0.95" stroke-linecap="round"/>
<ellipse cx="111.8" cy="123.2" rx="32.6" ry="31.9" fill="none" stroke="#ea541c" stroke-width="2.6" stroke-dasharray="0.01 4.27" stroke-dashoffset="1.1" stroke-linecap="round"/>
<path d="M106.8,88.2 L131.5,31 L134.5,31.5 M119.3,58.8 L116.2,58.2" fill="none" stroke="#a3b89a" stroke-width="0.85"/>
<line x1="112" y1="90.2" x2="136.7" y2="32.6" stroke="#eda52a" stroke-width="1.25" stroke-dasharray="1.3 0.9"/>
<line x1="112" y1="92" x2="112" y2="121.5" stroke="#eda52a" stroke-width="1.25" stroke-dasharray="1.3 0.9"/>
<path d="M103.9,95.5 V107.1 H100.2 M103.9,107.1 V122.6 H109.2" fill="none" stroke="#9fb3da" stroke-width="0.95"/>
<circle cx="112" cy="90.3" r="1.9" fill="#ffc800" stroke="#e89400" stroke-width="0.7"/>
<circle cx="112" cy="123.6" r="2.2" fill="#f07020"/>
<rect x="88.7" y="51.2" width="2.0" height="9.8" fill="#946208"/>
<rect x="92.9" y="51.2" width="2.0" height="9.8" fill="#946208"/>
<rect x="121" y="118" width="2.1" height="9.7" fill="#946208"/>
<text x="104.6" y="61.0" font-size="9.8" font-style="italic" fill="#3a3a3a" font-family='"DejaVu Serif", serif' textLength="6.6" lengthAdjust="spacingAndGlyphs">d</text>
<text x="110.3" y="62.9" font-size="6.8" fill="#2a2a2a" stroke="#2a2a2a" stroke-width="0.15" font-family='"DejaVu Serif", serif'>2</text>
<text x="88.6" y="110.7" font-size="9.8" font-style="italic" fill="#3a3a3a" font-family='"DejaVu Serif", serif' textLength="6.4" lengthAdjust="spacingAndGlyphs">d</text>
<text x="94.6" y="112.7" font-size="6.8" fill="#2a2a2a" stroke="#2a2a2a" stroke-width="0.15" font-family='"DejaVu Serif", serif'>1</text>
</svg>
</body></html>
